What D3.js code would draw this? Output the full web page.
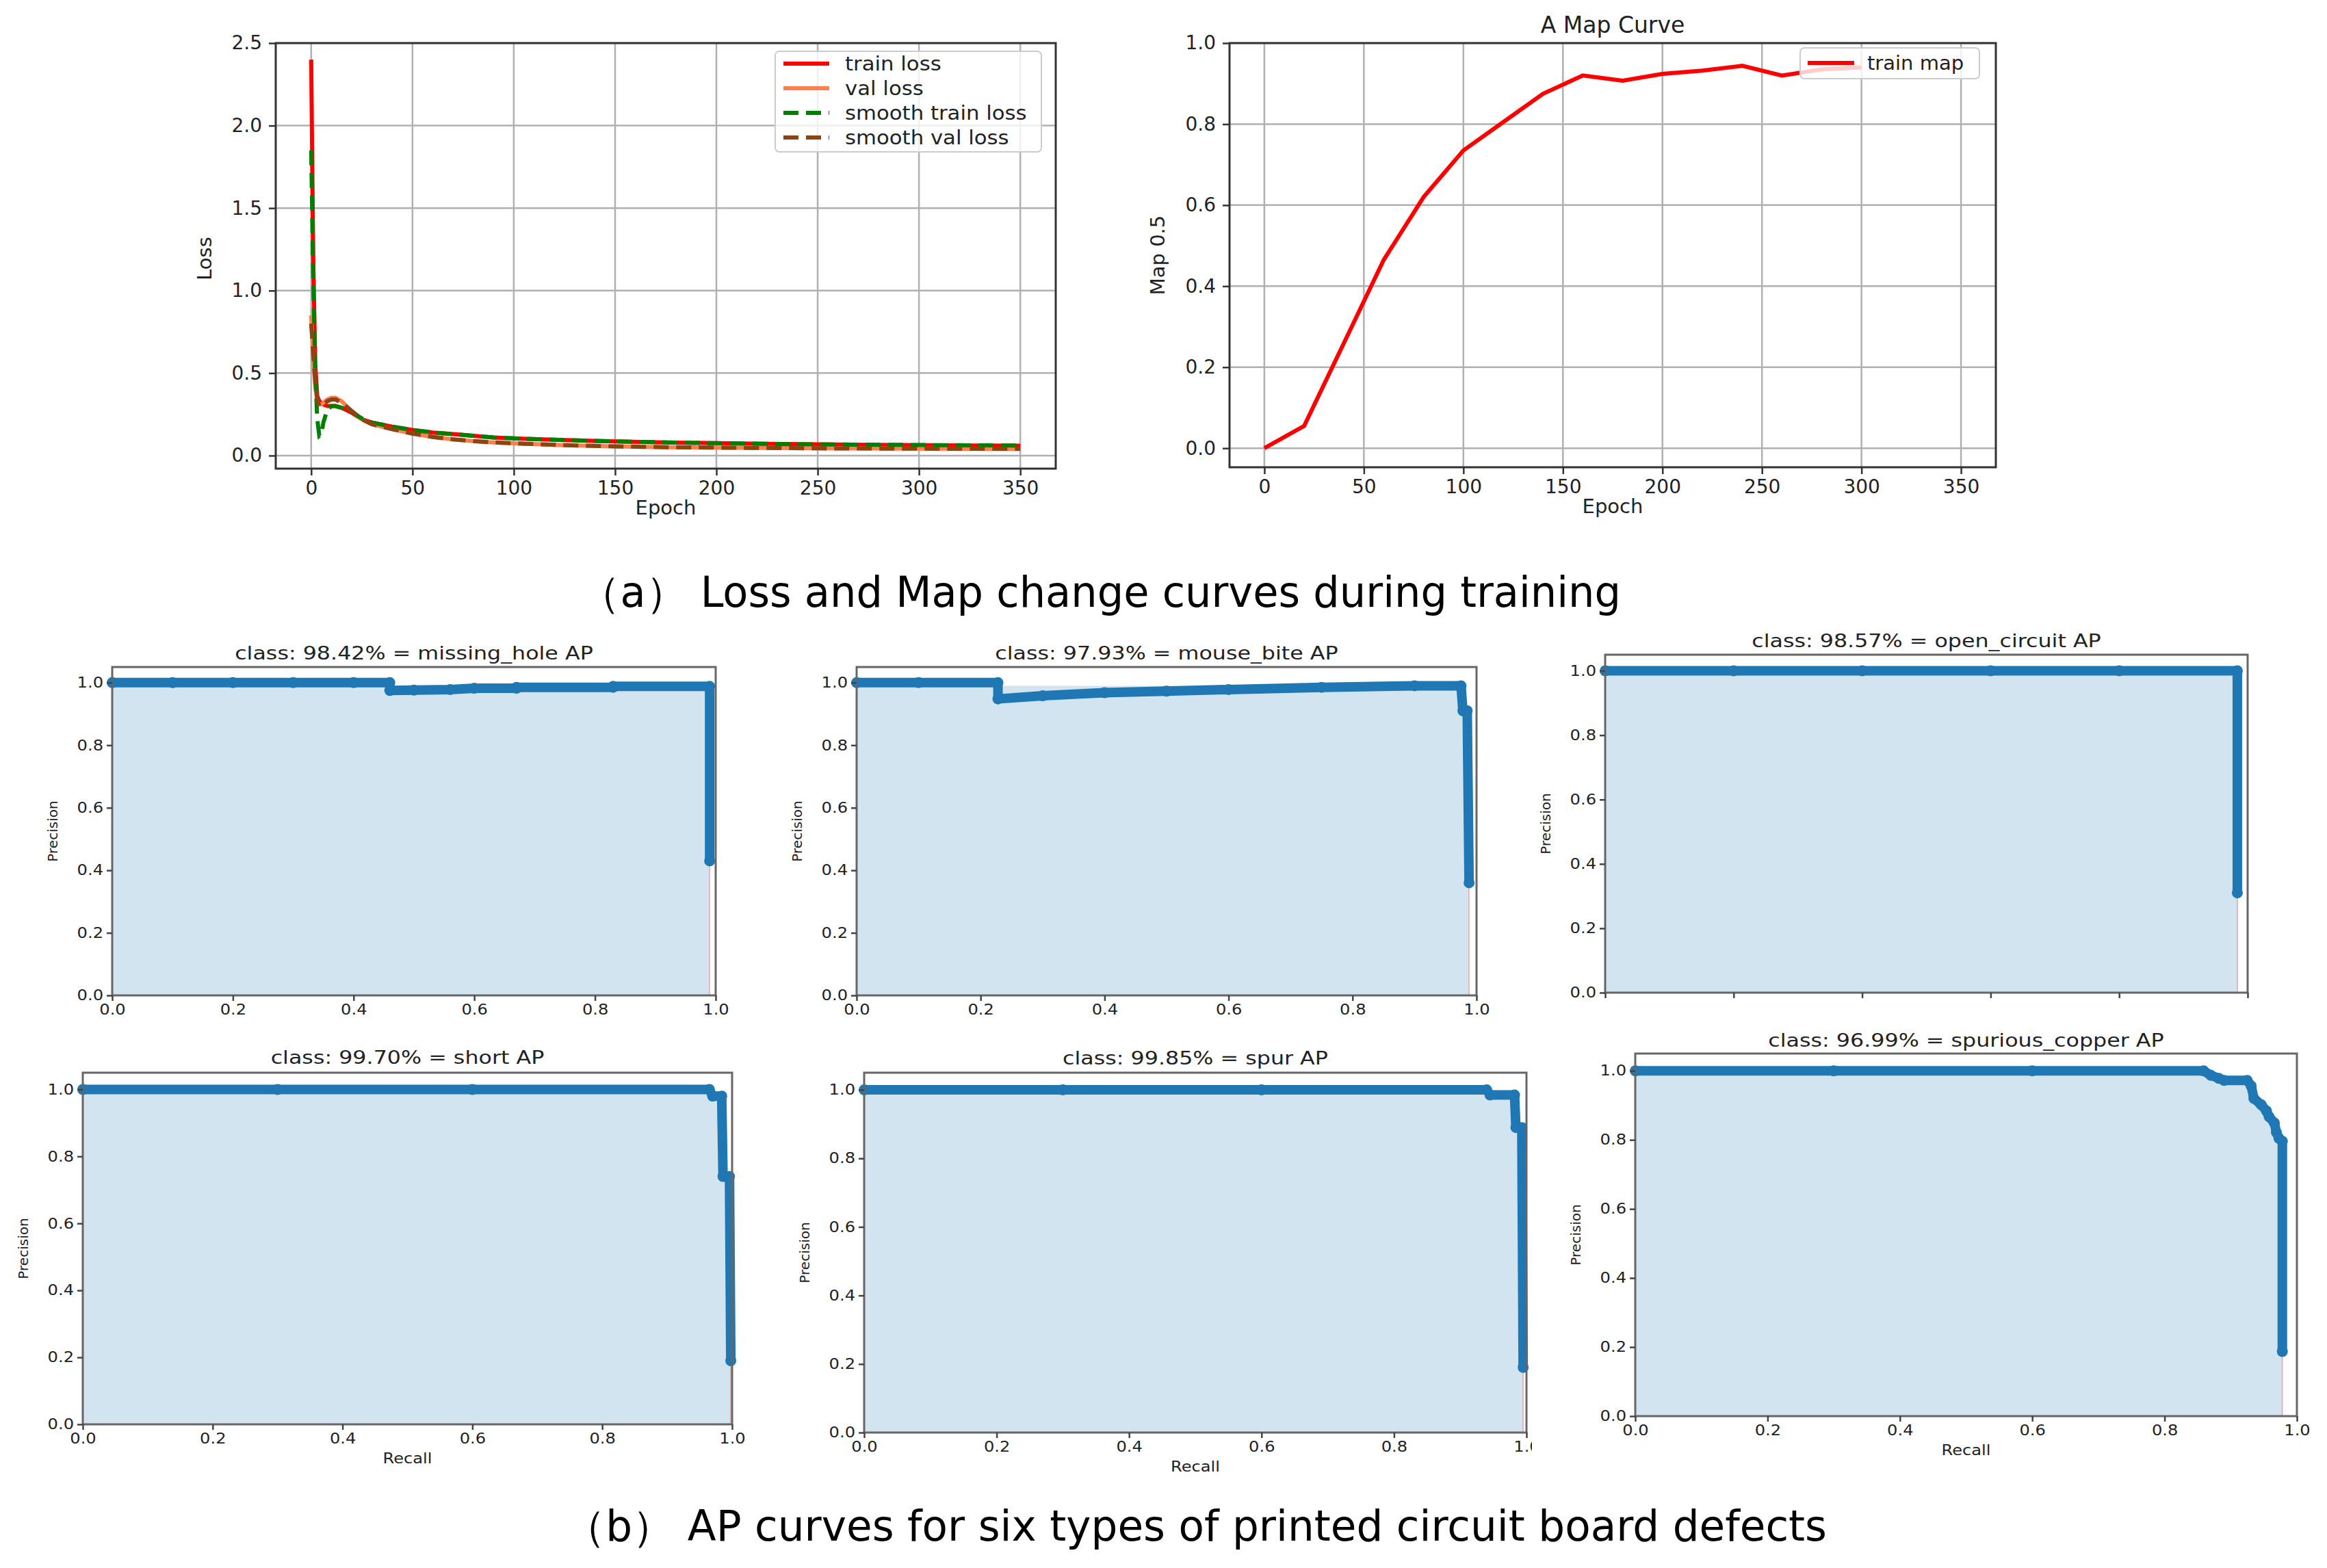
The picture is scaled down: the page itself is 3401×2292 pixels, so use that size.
<!DOCTYPE html>
<html lang="en">
<head>
  <meta charset="UTF-8">
  <title>Loss / Map / AP curves</title>
  <style>
    html,
    body {
      margin: 0;
      background: #fff;
    }

    svg {
      display: block;
    }

    text {
      font-family: 'DejaVu Sans', sans-serif;
    }
  </style>
</head>
<body>
  <svg id="fig" width="3401" height="2292"></svg>
  <script src="https://cdn.jsdelivr.net/npm/d3@7/dist/d3.min.js"></script>
  <script>
    // ---- data ----
    var lossEpochs = [0, 1, 2, 3, 4, 5, 6, 8, 10, 12, 15, 20, 25, 30, 40, 50, 60, 70, 80, 90, 100, 125, 150, 175, 200, 225, 250, 275, 300, 325, 350]
    var trainLoss = [2.40, 1.20, 0.55, 0.36, 0.33, 0.32, 0.31, 0.30, 0.30, 0.30, 0.29, 0.26, 0.22, 0.20, 0.175, 0.155, 0.14, 0.13, 0.12, 0.11, 0.104, 0.094, 0.086, 0.080, 0.075, 0.071, 0.068, 0.065, 0.063, 0.061, 0.060]
    var valLoss = [0.85, 0.60, 0.42, 0.33, 0.31, 0.31, 0.32, 0.34, 0.35, 0.35, 0.33, 0.27, 0.22, 0.19, 0.16, 0.133, 0.113, 0.098, 0.088, 0.080, 0.074, 0.063, 0.056, 0.051, 0.048, 0.046, 0.044, 0.043, 0.042, 0.041, 0.040]
    var smoothTrainLoss = [1.85, 1.10, 0.50, 0.22, 0.12, 0.13, 0.20, 0.28, 0.30, 0.30, 0.29, 0.265, 0.225, 0.20, 0.175, 0.155, 0.14, 0.13, 0.12, 0.11, 0.104, 0.094, 0.086, 0.080, 0.075, 0.071, 0.068, 0.066, 0.064, 0.062, 0.061]
    var smoothValLoss = [0.80, 0.62, 0.45, 0.34, 0.30, 0.30, 0.31, 0.33, 0.34, 0.34, 0.32, 0.27, 0.22, 0.19, 0.16, 0.133, 0.113, 0.098, 0.088, 0.080, 0.074, 0.063, 0.056, 0.051, 0.048, 0.046, 0.044, 0.043, 0.042, 0.041, 0.041]

    var mapEpochs = [0, 20, 40, 60, 80, 100, 120, 140, 160, 180, 200, 220, 240, 260, 280, 300]
    var trainMap = [0.0, 0.055, 0.26, 0.465, 0.62, 0.735, 0.805, 0.875, 0.92, 0.907, 0.924, 0.932, 0.944, 0.92, 0.935, 0.94]

    var epochTicks = [0, 50, 100, 150, 200, 250, 300, 350]
    var lossTicks = [0, 0.5, 1.0, 1.5, 2.0, 2.5]
    var mapTicks = [0, 0.2, 0.4, 0.6, 0.8, 1.0]
    var apTicks = [0, 0.2, 0.4, 0.6, 0.8, 1.0]

    var apClasses = ['missing_hole', 'mouse_bite', 'open_circuit', 'short', 'spur', 'spurious_copper']
    var apValues = ['98.42', '97.93', '98.57', '99.70', '99.85', '96.99']

    // [recall, precision]
    var missingHolePR = [[0, 1], [0.1, 1], [0.2, 1], [0.3, 1], [0.4, 1], [0.46, 1], [0.46, 0.975], [0.5, 0.976], [0.56, 0.978], [0.6, 0.982], [0.67, 0.982], [0.67, 0.985], [0.83, 0.985], [0.83, 0.988], [0.99, 0.988], [0.99, 0.43]]
    var mouseBitePR = [[0, 1], [0.1, 1], [0.228, 1], [0.228, 0.948], [0.3, 0.958], [0.4, 0.968], [0.5, 0.973], [0.6, 0.978], [0.75, 0.985], [0.9, 0.99], [0.975, 0.99], [0.978, 0.91], [0.985, 0.91], [0.988, 0.36]]
    var openCircuitPR = [[0, 1], [0.2, 1], [0.4, 1], [0.6, 1], [0.8, 1], [0.984, 1], [0.984, 0.31]]
    var shortPR = [[0, 1], [0.3, 1], [0.6, 1], [0.965, 1], [0.97, 0.98], [0.984, 0.98], [0.986, 0.74], [0.996, 0.74], [0.998, 0.19]]
    var spurPR = [[0, 1], [0.3, 1], [0.6, 1], [0.94, 1], [0.945, 0.985], [0.982, 0.985], [0.984, 0.89], [0.993, 0.89], [0.995, 0.19]]
    var spuriousCopperPR = [[0, 1], [0.3, 1], [0.6, 1], [0.859, 1], [0.87, 0.987], [0.882, 0.978], [0.89, 0.972], [0.925, 0.972], [0.931, 0.956], [0.935, 0.92], [0.946, 0.902], [0.954, 0.884], [0.958, 0.867], [0.966, 0.849], [0.969, 0.822], [0.973, 0.804], [0.978, 0.796], [0.978, 0.187]]
    var apCurves = [missingHolePR, mouseBitePR, openCircuitPR, shortPR, spurPR, spuriousCopperPR]

    // ---- layout (pixels) ----
    var apPanels = [
      { left: 164, right: 1046, top: 975, bottom: 1455, titleY: 964, xLabels: true, recall: false },
      { left: 1252, right: 2158, top: 975, bottom: 1455, titleY: 964, xLabels: true, recall: false },
      { left: 2346, right: 3285, top: 957, bottom: 1451, titleY: 946, xLabels: false, recall: false },
      { left: 121, right: 1070, top: 1568, bottom: 2082, titleY: 1555, xLabels: true, recall: true },
      { left: 1263, right: 2231, top: 1568, bottom: 2094, titleY: 1556, xLabels: true, recall: true, clipRight: 2239 },
      { left: 2390, right: 3357, top: 1540, bottom: 2070, titleY: 1530, xLabels: true, recall: true }
    ]

    var svg = d3.select('#fig')
    svg.append('rect').attr('width', 3401).attr('height', 2292).attr('fill', '#fff')
    var defs = svg.append('defs')

    // the AP panels are a bit wider-set in the source image
    function stretch(sel, f) {
      sel.each(function () {
        var w = this.getComputedTextLength()
        d3.select(this).attr('textLength', w * f).attr('lengthAdjust', 'spacingAndGlyphs')
      })
    }

    function styleAxis(g, size, color) {
      g.select('.domain').remove()
      g.selectAll('.tick line').attr('stroke', color).attr('stroke-width', 2.5)
      g.selectAll('.tick text').attr('fill', '#222').attr('font-size', size)
        .attr('font-family', "'DejaVu Sans', sans-serif")
    }

    function grid(g, x, y, xt, yt, box) {
      var gg = g.append('g').attr('stroke', '#b0b0b0').attr('stroke-width', 2.5)
      gg.selectAll('.vx').data(xt).join('line')
        .attr('x1', d => x(d)).attr('x2', d => x(d))
        .attr('y1', box.top).attr('y2', box.bottom)
      gg.selectAll('.hy').data(yt).join('line')
        .attr('y1', d => y(d)).attr('y2', d => y(d))
        .attr('x1', box.left).attr('x2', box.right)
    }

    function frame(g, box, color) {
      g.append('rect')
        .attr('x', box.left).attr('y', box.top)
        .attr('width', box.right - box.left).attr('height', box.bottom - box.top)
        .attr('fill', 'none').attr('stroke', color).attr('stroke-width', 3)
    }

    function clipFor(id, box) {
      defs.append('clipPath').attr('id', id).append('rect')
        .attr('x', box.left).attr('y', box.top)
        .attr('width', box.right - box.left).attr('height', box.bottom - box.top)
      return 'url(#' + id + ')'
    }

    // ---- loss plot ----
    function drawLoss() {
      var box = { left: 403, right: 1543, top: 63, bottom: 685 }
      var x = d3.scaleLinear().domain([-17.5, 367.5]).range([box.left, box.right])
      var y = d3.scaleLinear().domain([-0.079, 2.5]).range([box.bottom, box.top])
      var g = svg.append('g')

      grid(g, x, y, epochTicks, lossTicks, box)

      var series = [
        { name: 'train loss', values: trainLoss, color: '#ff0000', dash: null },
        { name: 'val loss', values: valLoss, color: '#ff7f50', dash: null },
        { name: 'smooth train loss', values: smoothTrainLoss, color: '#008000', dash: '22 11' },
        { name: 'smooth val loss', values: smoothValLoss, color: '#8b4513', dash: '22 11' }
      ]
      var line = d3.line().x((d, i) => x(lossEpochs[i])).y(d => y(d))
      var lines = g.append('g').attr('clip-path', clipFor('lossClip', box))
      lines.selectAll('path').data(series).join('path')
        .attr('d', d => line(d.values))
        .attr('fill', 'none')
        .attr('stroke', d => d.color)
        .attr('stroke-width', 6)
        .attr('stroke-dasharray', d => d.dash)

      frame(g, box, '#333')

      var ax = g.append('g').attr('transform', `translate(0,${box.bottom})`)
        .call(d3.axisBottom(x).tickValues(epochTicks).tickSize(10).tickPadding(8))
      styleAxis(ax, 28, '#333')
      var ay = g.append('g').attr('transform', `translate(${box.left},0)`)
        .call(d3.axisLeft(y).tickValues(lossTicks).tickFormat(d3.format('.1f')).tickSize(10).tickPadding(10))
      styleAxis(ay, 28, '#333')

      g.append('text').attr('x', (box.left + box.right) / 2).attr('y', 752)
        .attr('text-anchor', 'middle').attr('font-size', 29).attr('fill', '#222').text('Epoch')
      g.append('text').attr('transform', 'translate(309,378) rotate(-90)')
        .attr('text-anchor', 'middle').attr('font-size', 29).attr('fill', '#222').text('Loss')

      // legend
      var lg = g.append('g')
      lg.append('rect').attr('x', 1133).attr('y', 75).attr('width', 389).attr('height', 147)
        .attr('rx', 6).attr('fill', '#fff').attr('fill-opacity', 0.8)
        .attr('stroke', '#ccc').attr('stroke-width', 2)
      var it = lg.selectAll('.item').data(series).join('g')
        .attr('transform', (d, i) => `translate(0,${93 + i * 36})`)
      it.append('line').attr('x1', 1145).attr('x2', 1212)
        .attr('stroke', d => d.color).attr('stroke-width', 6)
        .attr('stroke-dasharray', d => d.dash)
      it.append('text').attr('x', 1235).attr('dy', '0.35em')
        .attr('font-size', 29).attr('fill', '#222').text(d => d.name)
        .call(stretch, 1.06)
    }

    // ---- map plot ----
    function drawMap() {
      var box = { left: 1797, right: 2917, top: 63, bottom: 683 }
      var x = d3.scaleLinear().domain([-17.5, 367.5]).range([box.left, box.right])
      var y = d3.scaleLinear().domain([-0.047, 1.0]).range([box.bottom, box.top])
      var g = svg.append('g')

      grid(g, x, y, epochTicks, mapTicks, box)

      var line = d3.line().x((d, i) => x(mapEpochs[i])).y(d => y(d))
      g.append('path').datum(trainMap)
        .attr('clip-path', clipFor('mapClip', box))
        .attr('d', line)
        .attr('fill', 'none').attr('stroke', '#ff0000').attr('stroke-width', 6)

      frame(g, box, '#333')

      var ax = g.append('g').attr('transform', `translate(0,${box.bottom})`)
        .call(d3.axisBottom(x).tickValues(epochTicks).tickSize(10).tickPadding(8))
      styleAxis(ax, 28, '#333')
      var ay = g.append('g').attr('transform', `translate(${box.left},0)`)
        .call(d3.axisLeft(y).tickValues(mapTicks).tickFormat(d3.format('.1f')).tickSize(10).tickPadding(10))
      styleAxis(ay, 28, '#333')

      g.append('text').attr('x', 2357).attr('y', 48)
        .attr('text-anchor', 'middle').attr('font-size', 33).attr('fill', '#222').text('A Map Curve')
      g.append('text').attr('x', (box.left + box.right) / 2).attr('y', 750)
        .attr('text-anchor', 'middle').attr('font-size', 29).attr('fill', '#222').text('Epoch')
      g.append('text').attr('transform', 'translate(1702,373) rotate(-90)')
        .attr('text-anchor', 'middle').attr('font-size', 29).attr('fill', '#222').text('Map 0.5')

      var lg = g.append('g')
      lg.append('rect').attr('x', 2631).attr('y', 70).attr('width', 262).attr('height', 45)
        .attr('rx', 6).attr('fill', '#fff').attr('fill-opacity', 0.8)
        .attr('stroke', '#ccc').attr('stroke-width', 2)
      lg.append('line').attr('x1', 2642).attr('x2', 2710).attr('y1', 92).attr('y2', 92)
        .attr('stroke', '#ff0000').attr('stroke-width', 6)
      lg.append('text').attr('x', 2729).attr('y', 92).attr('dy', '0.35em')
        .attr('font-size', 29).attr('fill', '#222').text('train map')
    }

    // ---- AP plots ----
    function drawAP(k) {
      var p = apPanels[k]
      var pts = apCurves[k]
      var box = { left: p.left, right: p.right, top: p.top, bottom: p.bottom }
      var x = d3.scaleLinear().domain([0, 1]).range([box.left, box.right])
      var y = d3.scaleLinear().domain([0, 1.05]).range([box.bottom, box.top])
      var g = svg.append('g')
      if (p.clipRight) {
        defs.append('clipPath').attr('id', 'apc' + k).append('rect')
          .attr('x', 0).attr('y', 0).attr('width', p.clipRight).attr('height', 2292)
        g.attr('clip-path', 'url(#apc' + k + ')')
      }

      // interpolated precision (running max from the right), as the AP code fills it
      var env = pts.map(d => d[1])
      for (var i = env.length - 2; i >= 0; i--) env[i] = Math.max(env[i], env[i + 1])
      var lastR = pts[pts.length - 1][0]
      var fillPts = pts.map((d, i) => [d[0], env[i]])
      var area = d3.area().x(d => x(d[0])).y0(y(0)).y1(d => y(d[1])).curve(d3.curveStepBefore)
      g.append('path').datum(fillPts).attr('d', area)
        .attr('fill', '#1f77b4').attr('fill-opacity', 0.2)
      g.append('line').attr('x1', x(lastR)).attr('x2', x(lastR))
        .attr('y1', y(0)).attr('y2', y(pts[pts.length - 1][1]))
        .attr('stroke', '#ff0000').attr('stroke-opacity', 0.25).attr('stroke-width', 2)

      var line = d3.line().x(d => x(d[0])).y(d => y(d[1]))
      g.append('path').datum(pts).attr('d', line)
        .attr('fill', 'none').attr('stroke', '#1f77b4').attr('stroke-width', 14)
        .attr('stroke-linejoin', 'round').attr('stroke-linecap', 'round')
      g.append('g').selectAll('circle').data(pts).join('circle')
        .attr('cx', d => x(d[0])).attr('cy', d => y(d[1])).attr('r', 8)
        .attr('fill', '#1f77b4')

      frame(g, box, '#666')

      var ax = g.append('g').attr('transform', `translate(0,${box.bottom})`)
        .call(d3.axisBottom(x).tickValues(apTicks).tickFormat(d3.format('.1f')).tickSize(8).tickPadding(5))
      styleAxis(ax, 21, '#444')
      if (!p.xLabels) ax.selectAll('.tick text').remove()
      else ax.selectAll('.tick text').call(stretch, 1.15)
      var ay = g.append('g').attr('transform', `translate(${box.left},0)`)
        .call(d3.axisLeft(y).tickValues(apTicks).tickFormat(d3.format('.1f')).tickSize(8).tickPadding(5))
      styleAxis(ay, 21, '#444')
      ay.selectAll('.tick text').call(stretch, 1.15)

      g.append('text').attr('x', (box.left + box.right) / 2).attr('y', p.titleY)
        .attr('text-anchor', 'middle').attr('font-size', 26).attr('fill', '#222')
        .text('class: ' + apValues[k] + '% = ' + apClasses[k] + ' AP')
        .call(stretch, 1.22)
      g.append('text')
        .attr('transform', `translate(${box.left - 80},${(box.top + box.bottom) / 2}) rotate(-90)`)
        .attr('text-anchor', 'middle').attr('font-size', 20).attr('fill', '#222').text('Precision')
      if (p.recall) {
        g.append('text').attr('x', (box.left + box.right) / 2).attr('y', box.bottom + 57)
          .attr('text-anchor', 'middle').attr('font-size', 21).attr('fill', '#222').text('Recall')
          .call(stretch, 1.15)
      }
    }

    drawLoss()
    drawMap()
    apPanels.forEach((p, k) => drawAP(k))

    // captions
    svg.append('text').attr('x', 846).attr('y', 887)
      .attr('textLength', 1523).attr('lengthAdjust', 'spacingAndGlyphs')
      .attr('font-family', "Lato, 'Noto Sans CJK SC', sans-serif")
      .attr('font-size', 62).attr('fill', '#000')
      .text('（a） Loss and Map change curves during training')
    svg.append('text').attr('x', 824).attr('y', 2252)
      .attr('textLength', 1846).attr('lengthAdjust', 'spacingAndGlyphs')
      .attr('font-family', "Lato, 'Noto Sans CJK SC', sans-serif")
      .attr('font-size', 62).attr('fill', '#000')
      .text('（b） AP curves for six types of printed circuit board defects')
  </script>
</body>
</html>
